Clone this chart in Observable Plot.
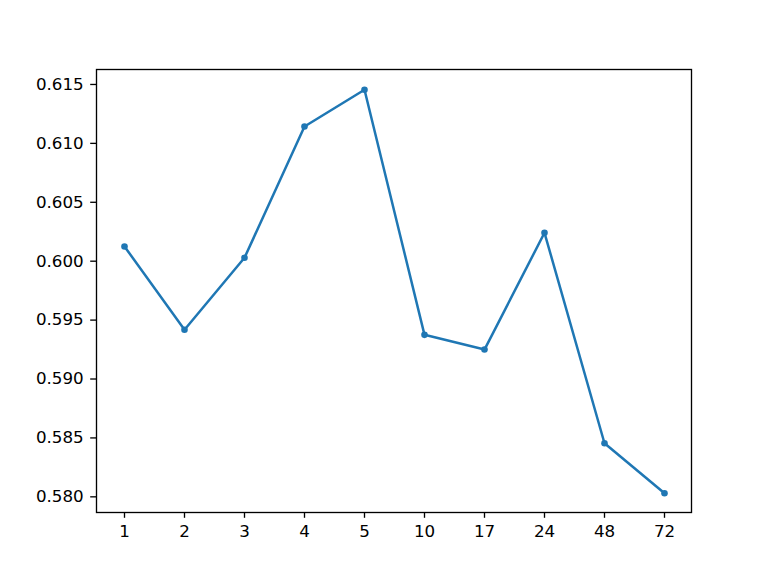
<!DOCTYPE html>
<html>
<head>
<meta charset="utf-8">
<script src="https://cdn.jsdelivr.net/npm/d3@7"></script>
<script src="https://cdn.jsdelivr.net/npm/@observablehq/plot@0.6"></script>
<style>
  html, body { margin: 0; padding: 0; background: #fff; }
</style>
</head>
<body>
<div id="chart"></div>
<script>
const categories = ["1", "2", "3", "4", "5", "10", "17", "24", "48", "72"];
const values = [0.60125, 0.59418, 0.60029, 0.61143, 0.61455, 0.59375, 0.5925, 0.60241, 0.58455, 0.5803];
const yTicks = [0.580, 0.585, 0.590, 0.595, 0.600, 0.605, 0.610, 0.615];

const data = categories.map((c, i) => ({x: c, y: values[i]}));

const chart = Plot.plot({
  width: 768,
  height: 576,
  marginLeft: 96,
  marginRight: 77,
  marginTop: 69,
  marginBottom: 64,
  style: {fontFamily: "DejaVu Sans", fontSize: "16.7px", color: "black", background: "white"},
  x: {type: "point", domain: categories, padding: 0.45, label: null},
  y: {domain: [0.57867, 0.61627], label: null},
  marks: [
    Plot.frame({stroke: "black", strokeWidth: 1.33}),
    Plot.axisX({ticks: categories, tickSize: 5.8, tickPadding: 7, strokeWidth: 1.33, label: null, fontSize: 16.7}),
    Plot.axisY({ticks: yTicks, tickFormat: d3.format(".3f"), tickSize: 5.8, tickPadding: 7, strokeWidth: 1.33, label: null, fontSize: 16.7}),
    Plot.line(data, {x: "x", y: "y", stroke: "#1f77b4", strokeWidth: 2.5}),
    Plot.dot(data, {x: "x", y: "y", fill: "#1f77b4", r: 3.3})
  ]
});
document.getElementById("chart").appendChild(chart);
</script>
</body>
</html>
